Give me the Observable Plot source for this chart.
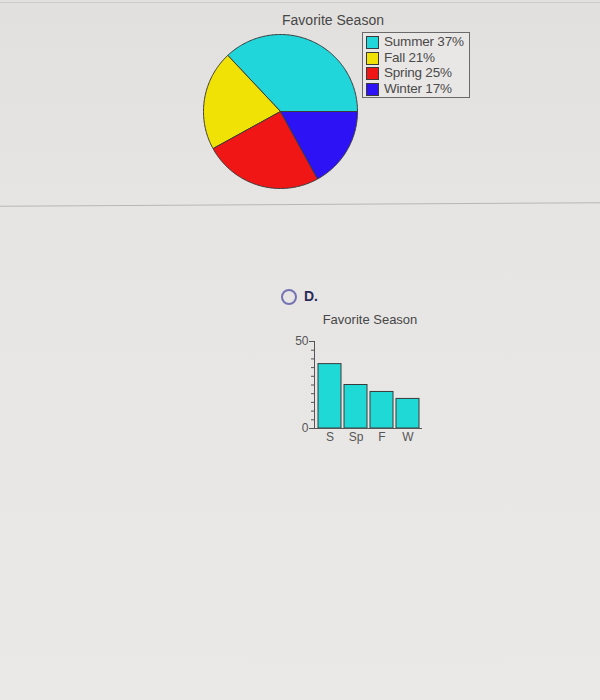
<!DOCTYPE html>
<html>
<head>
<meta charset="utf-8">
<script src="https://cdn.jsdelivr.net/npm/d3@7"></script>
<script src="https://cdn.jsdelivr.net/npm/@observablehq/plot@0.6"></script>
<style>
  html, body { margin: 0; padding: 0; }
  body { width: 600px; height: 700px; position: relative; overflow: hidden;
         background: linear-gradient(180deg, #e2e0de 0%, #e7e5e3 30%, #ebe9e7 100%);
         font-family: "Liberation Sans", Arial, sans-serif; }
  .abs { position: absolute; }
  #divider { left: 0; top: 204px; width: 600px; height: 0; border-top: 1px solid #b9b7b5; transform: rotate(-0.35deg); }
  #topline { left: 0; top: 2px; width: 600px; height: 0; border-top: 1px solid #cfcdcb; }
  #pieTitle { left: 250px; width: 166px; top: 12px; text-align: center; font-size: 14px; color: #474747; }
  #legend { left: 362px; top: 32px; width: 106px; height: 64px; border: 1px solid #6a6a6a; background: #e9e7e5; }
  .row { position: absolute; left: 2px; height: 16px; font-size: 13.5px; color: #4a4a4a; line-height: 16px; }
  .sw { position: absolute; left: 1px; top: 2px; width: 11px; height: 11px; border: 1px solid #3a3a3a; }
  .lab { position: absolute; left: 19px; top: 0; white-space: nowrap; letter-spacing: -0.2px; }
  #radio { left: 281px; top: 289px; width: 12px; height: 12px; border: 2px solid #7474b4; border-radius: 50%; }
  #optD { left: 304px; top: 288px; font-size: 14px; font-weight: bold; color: #2a2a58; }
  #barTitle { left: 300px; width: 140px; top: 312px; text-align: center; font-size: 13px; color: #474747; }
</style>
</head>
<body>
<div id="topline" class="abs"></div>
<div id="pieTitle" class="abs">Favorite Season</div>
<div id="pieHolder" class="abs" style="left:0;top:0"></div>
<div id="legend" class="abs"></div>
<div id="divider" class="abs"></div>
<div id="radio" class="abs"></div>
<div id="optD" class="abs">D.</div>
<div id="barTitle" class="abs">Favorite Season</div>
<div id="barHolder" class="abs" style="left:270px;top:300px"></div>
<script>
// ---- data ----
const seasons = ["Summer", "Fall", "Spring", "Winter"];
const percents = [37, 21, 25, 17];
const pieColors = ["#20d6da", "#f0e204", "#f01616", "#2c12f4"];
const barLabels = ["S", "Sp", "F", "W"];
const barValues = [37, 25, 21, 17];
const barColor = "#1fd9d6";
const yMajorTicks = [0, 50];
const yMinorTicks = [5, 10, 15, 20, 25, 30, 35, 40, 45];

// ---- pie: build slice outlines from the percentages (start at 3 o'clock, counterclockwise) ----
const total = d3.sum(percents);
const slices = [];
let start = 0;
seasons.forEach((s, i) => {
  const a0 = start, a1 = start + percents[i] / total * 2 * Math.PI;
  start = a1;
  const pts = [{season: s, x: 0, y: 0}];
  const n = Math.max(2, Math.ceil((a1 - a0) / (Math.PI / 180)));
  for (let k = 0; k <= n; k++) {
    const a = a0 + (a1 - a0) * k / n;
    pts.push({season: s, x: Math.cos(a), y: Math.sin(a)});
  }
  pts.push({season: s, x: 0, y: 0});
  slices.push(...pts);
});

const pie = Plot.plot({
  width: 600, height: 200,
  margin: 0,
  x: {domain: [-1, 1], range: [203, 357], axis: null},
  y: {domain: [-1, 1], range: [188, 34], axis: null},
  color: {domain: seasons, range: pieColors},
  style: {background: "transparent", overflow: "visible"},
  marks: [
    Plot.line(slices, {x: "x", y: "y", z: "season", fill: "season", stroke: "#3b3b3b", strokeWidth: 1, curve: "linear"})
  ]
});
document.getElementById("pieHolder").appendChild(pie);

// legend
const legend = document.getElementById("legend");
seasons.forEach((s, i) => {
  const row = document.createElement("div");
  row.className = "row";
  row.style.top = (1 + i * 15.5) + "px";
  row.innerHTML = `<div class="sw" style="background:${pieColors[i]}"></div><div class="lab">${s} ${percents[i]}%</div>`;
  legend.appendChild(row);
});

// ---- bar chart ----
const bars = barLabels.map((l, i) => ({label: l, value: barValues[i]}));
const barChart = Plot.plot({
  width: 170, height: 150,
  marginTop: 41, marginBottom: 22, marginLeft: 44, marginRight: 18,
  x: {domain: barLabels, padding: 0.13, axis: null, label: null},
  y: {domain: [0, 50], axis: null, label: null},
  style: {background: "transparent", fontFamily: "Liberation Sans, Arial, sans-serif", color: "#555", overflow: "visible"},
  marks: [
    Plot.barY(bars, {x: "label", y: "value", fill: barColor, stroke: "#3a3a3a", strokeWidth: 1}),
    Plot.axisY(yMinorTicks, {tickSize: 3, tickFormat: () => "", stroke: "#555", label: null}),
    Plot.axisY(yMajorTicks, {tickSize: 5, tickPadding: 1, fontSize: 12, stroke: "#555", fill: "#555", label: null}),
    Plot.axisX({tickSize: 0, tickPadding: 4, fontSize: 12, fill: "#555", label: null}),
    Plot.frame({anchor: "left", stroke: "#555"}),
    Plot.ruleY([0], {stroke: "#555"})
  ]
});
document.getElementById("barHolder").appendChild(barChart);
</script>
</body>
</html>
